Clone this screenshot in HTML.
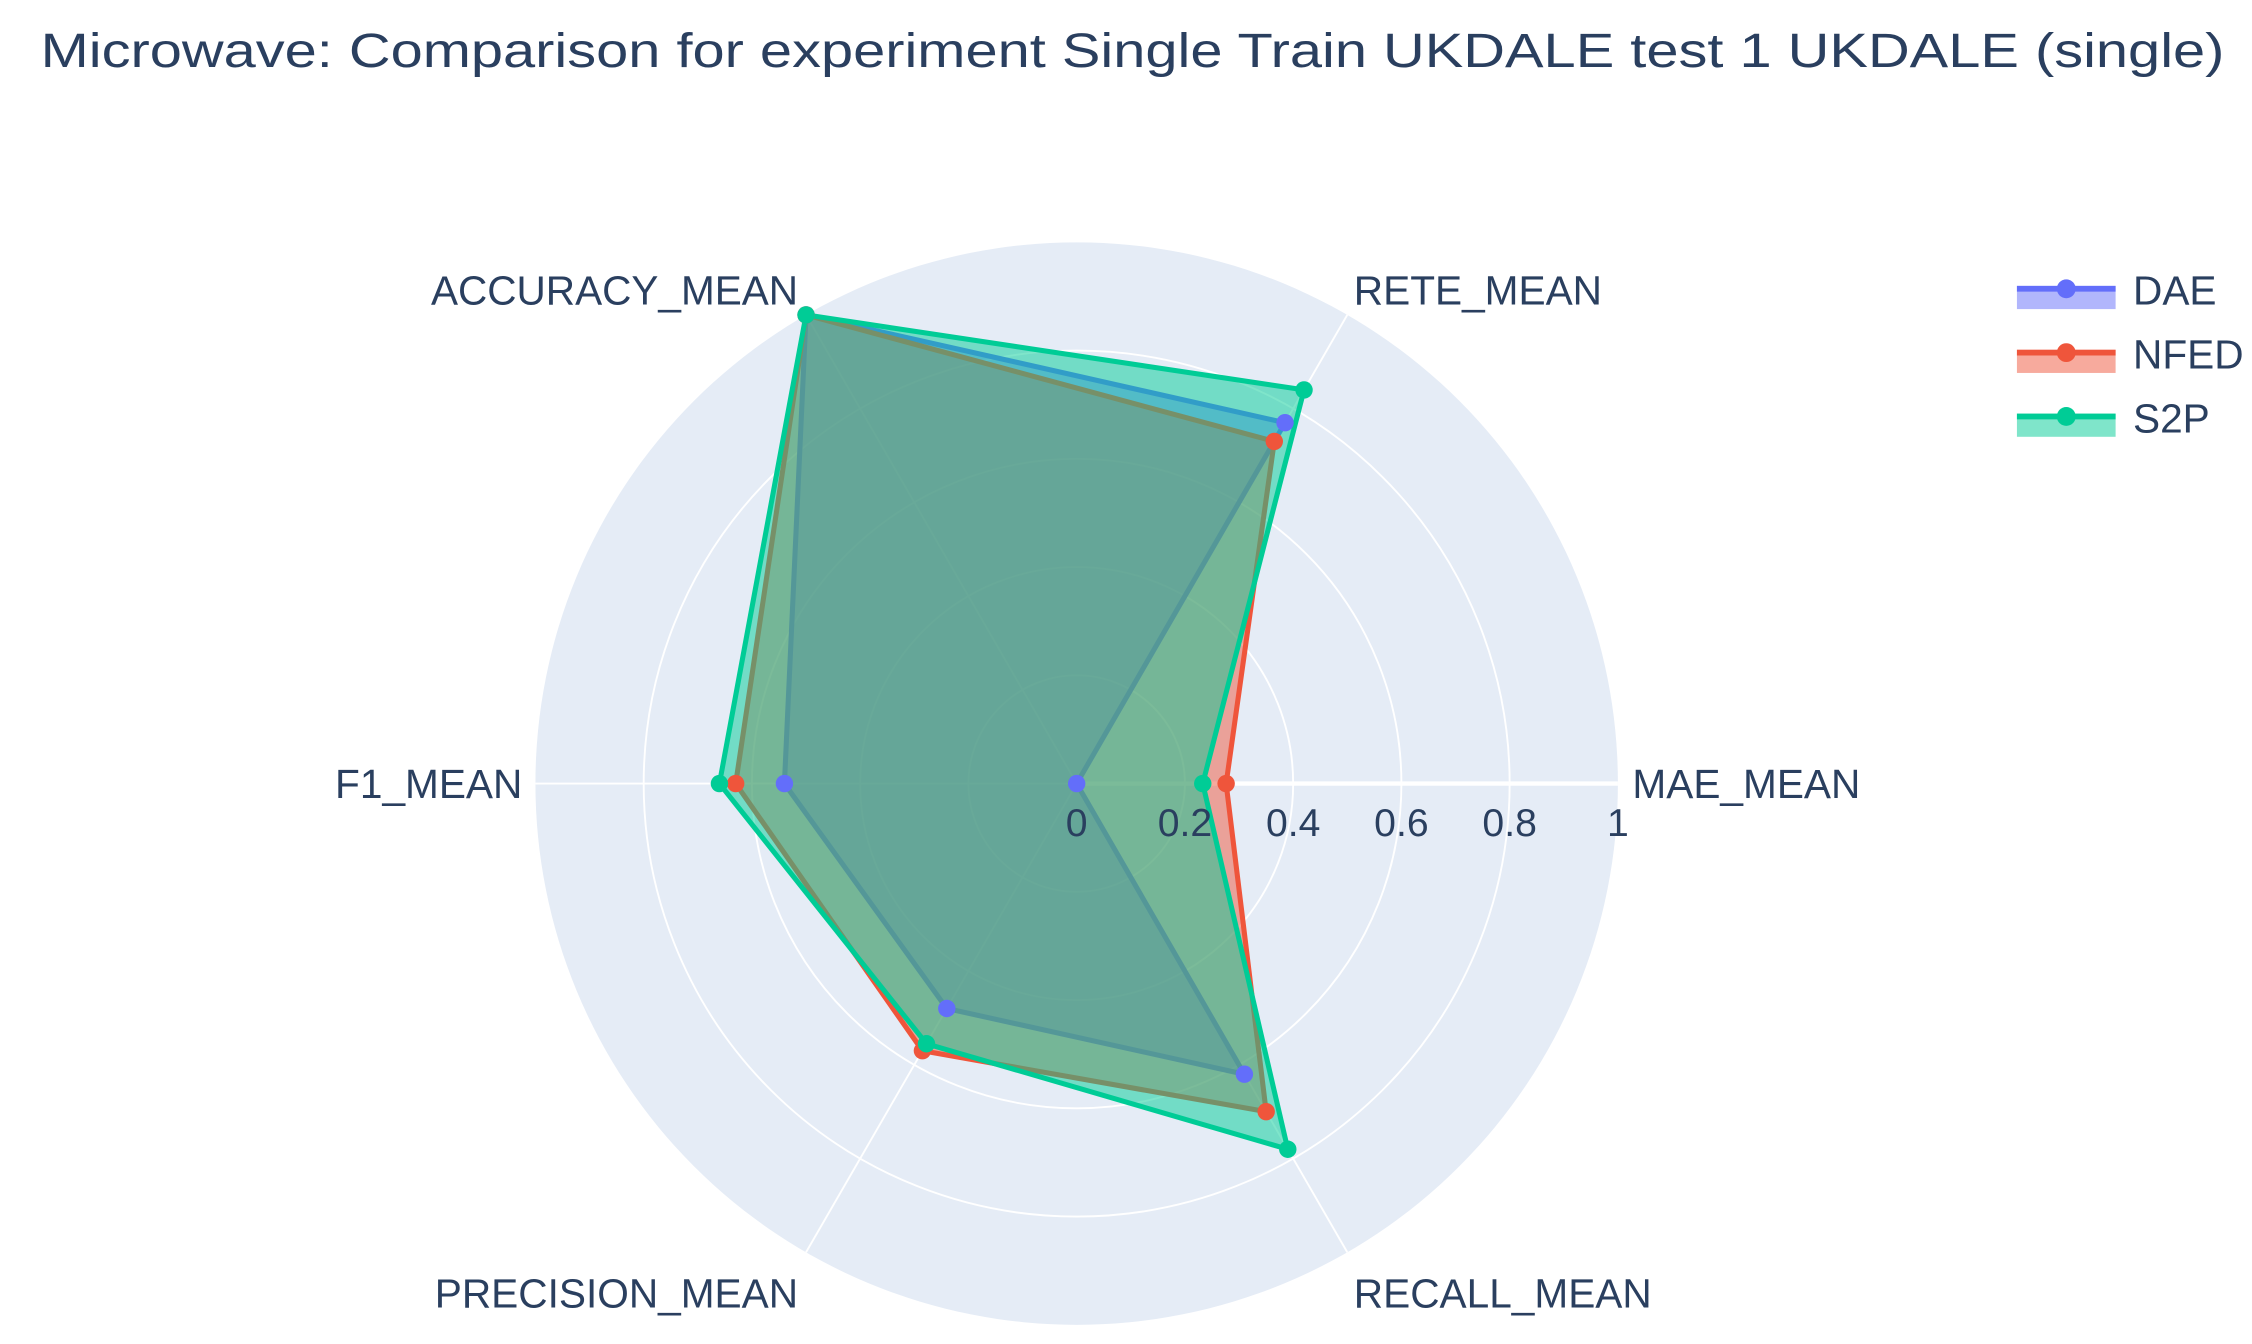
<!DOCTYPE html>
<html><head><meta charset="utf-8"><style>html,body{margin:0;padding:0;background:#fff}svg{display:block}</style></head>
<body>
<svg width="2252" height="1344" viewBox="0 0 1552 926.2" xmlns="http://www.w3.org/2000/svg" font-family="Liberation Sans, sans-serif" fill="#2a3f5f">
<rect width="1552" height="926.2" fill="#fff"/>
<text x="28" y="46" font-size="33" fill="#2a3f5f" textLength="1505" lengthAdjust="spacingAndGlyphs">Microwave: Comparison for experiment Single Train UKDALE test 1 UKDALE (single)</text>
<circle cx="742" cy="540" r="373" fill="#e5ecf6"/>
<g fill="none" stroke="#fff" stroke-width="1.3">
<circle cx="742" cy="540" r="74.6"/><circle cx="742" cy="540" r="149.2"/><circle cx="742" cy="540" r="223.8"/><circle cx="742" cy="540" r="298.4"/>
<line x1="742" y1="540" x2="928.5" y2="217"/>
<line x1="742" y1="540" x2="555.5" y2="217"/>
<line x1="742" y1="540" x2="369" y2="540"/>
<line x1="742" y1="540" x2="555.5" y2="863"/>
<line x1="742" y1="540" x2="928.5" y2="863"/>
</g>
<line x1="742" y1="540" x2="1115" y2="540" stroke="#fff" stroke-width="3"/>
<g stroke-linejoin="round" stroke-width="3.5">
<polygon points="742,540 885.6,291.3 555.5,217 540.6,540 652.5,695 857.6,740.3" fill="rgba(99,110,250,0.5)" stroke="#636efa"/>
<polygon points="845,540 878.2,304.2 555.5,217 507,540 635.7,724.1 872.6,766.1" fill="rgba(239,85,59,0.5)" stroke="#EF553B"/>
<polygon points="828.9,540 898.7,268.7 555.5,217 495.8,540 638.5,719.3 887.5,792" fill="rgba(0,204,150,0.5)" stroke="#00cc96"/>
</g>
<g fill="#636efa"><circle cx="742" cy="540" r="6"/><circle cx="885.6" cy="291.3" r="6"/><circle cx="555.5" cy="217" r="6"/><circle cx="540.6" cy="540" r="6"/><circle cx="652.5" cy="695" r="6"/><circle cx="857.6" cy="740.3" r="6"/></g>
<g fill="#EF553B"><circle cx="845" cy="540" r="6"/><circle cx="878.2" cy="304.2" r="6"/><circle cx="555.5" cy="217" r="6"/><circle cx="507" cy="540" r="6"/><circle cx="635.7" cy="724.1" r="6"/><circle cx="872.6" cy="766.1" r="6"/></g>
<g fill="#00cc96"><circle cx="828.9" cy="540" r="6"/><circle cx="898.7" cy="268.7" r="6"/><circle cx="555.5" cy="217" r="6"/><circle cx="495.8" cy="540" r="6"/><circle cx="638.5" cy="719.3" r="6"/><circle cx="887.5" cy="792" r="6"/></g>
<g font-size="27" fill="#2a3f5f" text-anchor="middle">
<text x="742" y="576">0</text><text x="816.6" y="576">0.2</text><text x="891.2" y="576">0.4</text><text x="965.8" y="576">0.6</text><text x="1040.4" y="576">0.8</text><text x="1115" y="576">1</text>
</g>
<g font-size="28" fill="#2a3f5f">
<text x="550" y="210" text-anchor="end" textLength="253" lengthAdjust="spacingAndGlyphs">ACCURACY_MEAN</text>
<text x="933" y="210">RETE_MEAN</text>
<text x="1125" y="550">MAE_MEAN</text>
<text x="360" y="550" text-anchor="end">F1_MEAN</text>
<text x="550" y="901" text-anchor="end">PRECISION_MEAN</text>
<text x="933" y="901">RECALL_MEAN</text>
</g>
<g>
<rect x="1390" y="197" width="68" height="16" fill="rgba(99,110,250,0.5)"/><line x1="1390" y1="199" x2="1458" y2="199" stroke="#636efa" stroke-width="4"/><circle cx="1424" cy="199" r="6.5" fill="#636efa"/>
<rect x="1390" y="241" width="68" height="16" fill="rgba(239,85,59,0.5)"/><line x1="1390" y1="243" x2="1458" y2="243" stroke="#EF553B" stroke-width="4"/><circle cx="1424" cy="243" r="6.5" fill="#EF553B"/>
<rect x="1390" y="285" width="68" height="16" fill="rgba(0,204,150,0.5)"/><line x1="1390" y1="287" x2="1458" y2="287" stroke="#00cc96" stroke-width="4"/><circle cx="1424" cy="287" r="6.5" fill="#00cc96"/>
</g>
<g font-size="28" fill="#2a3f5f">
<text x="1470" y="210">DAE</text><text x="1470" y="254">NFED</text><text x="1470" y="298">S2P</text>
</g>
</svg>
</body></html>
